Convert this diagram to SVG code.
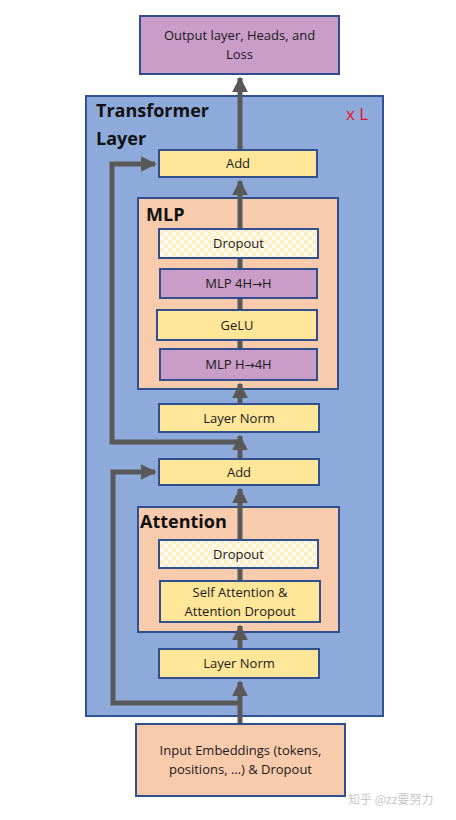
<svg xmlns="http://www.w3.org/2000/svg" width="456" height="820" viewBox="0 0 456 820">
<style>
.box{stroke:#2f4f8f;stroke-width:2}
.yel{fill:#ffe699}
.pur{fill:#c99dc8}
.pch{fill:#f8cbad}
.lbl{font-family:"Open Sans",sans-serif;font-size:13px;fill:#1a1a1a;text-anchor:middle}
.arr{font-family:"DejaVu Sans",sans-serif;font-size:12px}
.ttl{font-family:"Open Sans",sans-serif;font-weight:bold;fill:#111}
.ln{stroke:#595959;stroke-width:5;fill:none}
</style>
<defs>
<pattern id="chk" width="8" height="8" patternUnits="userSpaceOnUse">
<rect width="8" height="8" fill="#fffaf0"/>
<rect width="4" height="4" fill="#fbefc4"/>
<rect x="4" y="4" width="4" height="4" fill="#fbefc4"/>
</pattern>
<marker id="ah" viewBox="0 0 10 10" refX="9" refY="5" markerWidth="3.2" markerHeight="3.2" orient="auto" markerUnits="strokeWidth">
<path d="M0,0 L10,5 L0,10 Z" fill="#595959"/>
</marker>
</defs>
<rect width="456" height="820" fill="#ffffff"/>

<g id="output">
<rect class="box pur" x="140" y="16" width="199" height="58"/>
<text class="lbl" x="239.5" y="40">Output layer, Heads, and</text>
<text class="lbl" x="239.5" y="59">Loss</text>
</g>

<g id="transformer-layer">
<rect x="86" y="96" width="297" height="620" fill="#8eaadb" stroke="#2f5597" stroke-width="2"/>
<text class="ttl" x="96" y="117" font-size="18">Transformer</text>
<text class="ttl" x="96" y="145" font-size="18">Layer</text>
<text x="346" y="120" font-family="Open Sans,sans-serif" font-size="17" fill="#e8102a">x L</text>
</g>

<g id="mlp">
<rect class="box pch" x="138" y="198" width="200" height="191"/>
<text class="ttl" x="146" y="221" font-size="18">MLP</text>
</g>

<g id="attention">
<rect class="box pch" x="138" y="507" width="201" height="125"/>
<text class="ttl" x="140" y="528" font-size="18">Attention</text>
</g>

<g id="connectors">
<line class="ln" x1="240" y1="724" x2="240" y2="682" marker-end="url(#ah)"/>
<line class="ln" x1="240" y1="649" x2="240" y2="626" marker-end="url(#ah)"/>
<line class="ln" x1="240" y1="581" x2="240" y2="568"/>
<line class="ln" x1="240" y1="540" x2="240" y2="489" marker-end="url(#ah)"/>
<line class="ln" x1="240" y1="459" x2="240" y2="436" marker-end="url(#ah)"/>
<line class="ln" x1="240" y1="404" x2="240" y2="384" marker-end="url(#ah)"/>
<line class="ln" x1="240" y1="349" x2="240" y2="340"/>
<line class="ln" x1="240" y1="310" x2="240" y2="298"/>
<line class="ln" x1="240" y1="269" x2="240" y2="258"/>
<line class="ln" x1="240" y1="229" x2="240" y2="181" marker-end="url(#ah)"/>
<line class="ln" x1="240" y1="150" x2="240" y2="78" marker-end="url(#ah)"/>
<polyline class="ln" points="240,703 113,703 113,472 155,472" marker-end="url(#ah)"/>
<polyline class="ln" points="240,442 112,442 112,164 155,164" marker-end="url(#ah)"/>
</g>

<g id="add-top">
<rect class="box yel" x="159" y="150" width="158" height="27"/>
<text class="lbl" x="238" y="168">Add</text>
</g>
<g id="mlp-dropout">
<rect class="box" fill="url(#chk)" x="159" y="229" width="159" height="29"/>
<text class="lbl" x="238.5" y="248">Dropout</text>
</g>
<g id="mlp-4h-h">
<rect class="box pur" x="160" y="269" width="157" height="29"/>
<text class="lbl" x="238.5" y="288">MLP 4H<tspan class="arr">→</tspan>H</text>
</g>
<g id="gelu">
<rect class="box yel" x="157" y="310" width="160" height="30"/>
<text class="lbl" x="237" y="330">GeLU</text>
</g>
<g id="mlp-h-4h">
<rect class="box pur" x="160" y="349" width="157" height="31"/>
<text class="lbl" x="238.5" y="369">MLP H<tspan class="arr">→</tspan>4H</text>
</g>
<g id="layernorm-top">
<rect class="box yel" x="159" y="404" width="160" height="28"/>
<text class="lbl" x="239" y="423">Layer Norm</text>
</g>
<g id="add-bottom">
<rect class="box yel" x="159" y="459" width="160" height="26"/>
<text class="lbl" x="239" y="477">Add</text>
</g>
<g id="attn-dropout">
<rect class="box" fill="url(#chk)" x="159" y="540" width="159" height="28"/>
<text class="lbl" x="238.5" y="559">Dropout</text>
</g>
<g id="self-attention">
<rect class="box yel" x="160" y="581" width="160" height="41"/>
<text class="lbl" x="240" y="597">Self Attention &amp;</text>
<text class="lbl" x="240" y="616">Attention Dropout</text>
</g>
<g id="layernorm-bottom">
<rect class="box yel" x="159" y="649" width="160" height="29"/>
<text class="lbl" x="239" y="668">Layer Norm</text>
</g>
<g id="input">
<rect class="box pch" x="136" y="724" width="209" height="72"/>
<text class="lbl" x="240.5" y="755">Input Embeddings (tokens,</text>
<text class="lbl" x="240.5" y="774">positions, …) &amp; Dropout</text>
</g>
<text x="348" y="804" font-family="Noto Sans CJK SC,sans-serif" font-size="12" fill="#c8c8c8">知乎 @zz要努力</text>
</svg>
